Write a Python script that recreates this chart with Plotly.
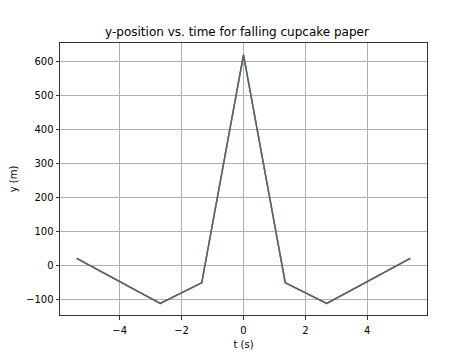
import plotly.graph_objects as go

t_values = [-5.39, -2.69, -1.35, 0.0, 1.35, 2.69, 5.39]
y_values = [20, -113, -52, 620, -52, -113, 20]
x_ticks = [-4, -2, 0, 2, 4]
y_ticks = [-100, 0, 100, 200, 300, 400, 500, 600]

fig = go.Figure()
fig.add_trace(go.Scatter(x=t_values, y=y_values, mode="lines",
                         line=dict(color="#1f77b4", width=1.5), showlegend=False))
fig.add_trace(go.Scatter(x=t_values, y=y_values, mode="lines",
                         line=dict(color="#ff7f0e", width=1.5, dash="dash"), showlegend=False))
fig.add_trace(go.Scatter(x=t_values, y=y_values, mode="lines",
                         line=dict(color="#5a6464", width=1.4), showlegend=False))

axis_common = dict(
    showline=True, linecolor="#333333", linewidth=1, mirror=True,
    ticks="outside", ticklen=3.5, tickwidth=1, tickcolor="#333333",
    showgrid=True, gridcolor="#b0b0b0", gridwidth=1, zeroline=False,
    tickfont=dict(family="DejaVu Sans", size=10, color="black"),
    automargin=False,
)

fig.update_layout(
    width=474, height=355,
    margin=dict(l=60, r=47, t=43, b=40),
    paper_bgcolor="white", plot_bgcolor="white",
    title=dict(text="y-position vs. time for falling cupcake paper",
               font=dict(family="DejaVu Sans", size=12, color="black"),
               x=0.5, xanchor="center", y=1 - 32 / 355, yanchor="middle"),
    xaxis=dict(range=[-5.93, 5.93], tickvals=x_ticks,
               ticktext=["\u22124", "\u22122", "0", "2", "4"],
               ticklabelstandoff=2,
               title=dict(text="t (s)", font=dict(family="DejaVu Sans", size=10, color="black"), standoff=6),
               **axis_common),
    yaxis=dict(range=[-147, 655], tickvals=y_ticks,
               ticktext=["\u2212100", "0", "100", "200", "300", "400", "500", "600"],
               title=dict(text="y (m)", font=dict(family="DejaVu Sans", size=10, color="black"), standoff=6),
               **axis_common),
)

fig.write_html("out.html")
